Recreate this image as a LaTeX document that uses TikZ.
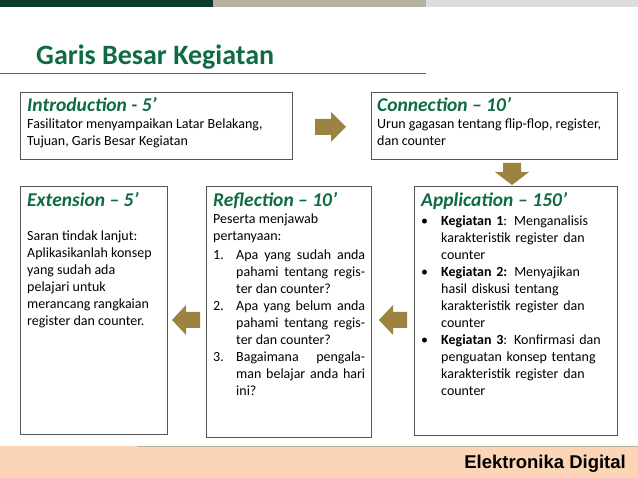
\documentclass[tikz,border=0pt]{standalone}
\usepackage{fontspec}
\setmainfont{Carlito}
\newfontfamily\arialb{Liberation Sans}
\usepackage{enumitem}
\definecolor{dgreen}{HTML}{0B3A2C}
\definecolor{tgreen}{HTML}{0E6B42}
\definecolor{tan}{HTML}{B5B2A0}
\definecolor{lgray}{HTML}{DDDDDD}
\definecolor{peach}{HTML}{FBD5B5}
\definecolor{arr}{HTML}{9C8440}
\definecolor{boxline}{HTML}{555555}
\newcommand\hd[1]{{\fontsize{19.5}{21}\selectfont\bfseries\itshape\color{tgreen}#1}}
\begin{document}
\begin{tikzpicture}[x=1pt,y=-1pt,
  box/.style={draw=boxline,line width=0.8pt},
  txt/.style={anchor=north west,inner sep=0pt,font=\fontsize{14}{17}\selectfont,align=left},
  blockarrow/.style={fill=arr,draw=none}]
\useasboundingbox (0,0) rectangle (638,478);
\fill[white] (0,0) rectangle (638,478);
\fill[dgreen] (0,0) rectangle (213,7);
\fill[tan] (213,0) rectangle (426,7);
\fill[lgray] (426,0) rectangle (638,7);
\node[anchor=west,inner sep=0pt,font=\fontsize{28}{30}\selectfont\bfseries,text=tgreen] (title) at (36,57) {Garis Besar Kegiatan};
\draw[color=tgreen!60!gray,line width=0.8pt] (0,73) -- (426,73);
\fill[peach] (0,446) rectangle (638,478);
\draw[color=tan,line width=0.8pt] (137,446) -- (638,446);
\node[anchor=east,inner sep=0pt,font=\arialb\fontsize{18.5}{20}\selectfont\bfseries] (ed) at (626,464) {Elektronika Digital};
% boxes
\draw[box] (20,92) rectangle (292,159);
\draw[box] (371,92) rectangle (617,159);
\draw[box] (20,186) rectangle (167,434);
\draw[box] (206,186) rectangle (371,437);
\draw[box] (414,186) rectangle (617,435);
% texts
\node[txt] (intro) at (27,97) {\hd{Introduction - 5’}\\[0pt]Fasilitator menyampaikan Latar Belakang,\\Tujuan, Garis Besar Kegiatan};
\node[txt] (conn) at (377,97) {\hd{Connection – 10’}\\[0pt]Urun gagasan tentang flip-flop, register,\\dan counter};
\node[txt] (ext) at (27,192) {\hd{Extension – 5’}\\[17pt]Saran tindak lanjut:\\Aplikasikanlah konsep\\yang sudah ada\\pelajari untuk\\merancang rangkaian\\register dan counter.};
\node[txt,text width=152,align=justify] (refl) at (213,192) {\hd{Reflection – 10’}\par
Peserta menjawab\\pertanyaan:\par
\begin{enumerate}[leftmargin=23pt,labelsep=*,align=left,topsep=0pt,itemsep=0pt,parsep=0pt,label=\arabic*.]
\item Apa yang sudah anda pahami tentang register dan counter?
\item Apa yang belum anda pahami tentang register dan counter?
\item Bagaimana pengalaman belajar anda hari ini?
\end{enumerate}};
\node[txt,text width=186] (app) at (421,192) {\hd{Application – 150’}\par
\begin{itemize}[leftmargin=20pt,labelsep=*,align=left,topsep=0pt,itemsep=0pt,parsep=0pt,label=\textbullet]
\item \textbf{Kegiatan 1}: Menganalisis karakteristik register dan counter
\item \textbf{Kegiatan 2:} Menyajikan hasil diskusi tentang karakteristik register dan counter
\item \textbf{Kegiatan 3}: Konfirmasi dan penguatan konsep tentang karakteristik register dan counter
\end{itemize}};
% block arrows
\fill[blockarrow] (315,119) -- (331,119) -- (331,112) -- (346,127) -- (331,142) -- (331,135) -- (315,135) -- cycle;
\fill[blockarrow] (503,163) -- (521,163) -- (521,172) -- (529,172) -- (512,185) -- (495,172) -- (503,172) -- cycle;
\fill[blockarrow] (407,312) -- (393,312) -- (393,305) -- (379,320) -- (393,335) -- (393,328) -- (407,328) -- cycle;
\fill[blockarrow] (200,312) -- (186,312) -- (186,305) -- (172,320) -- (186,335) -- (186,328) -- (200,328) -- cycle;
\end{tikzpicture}
\end{document}
